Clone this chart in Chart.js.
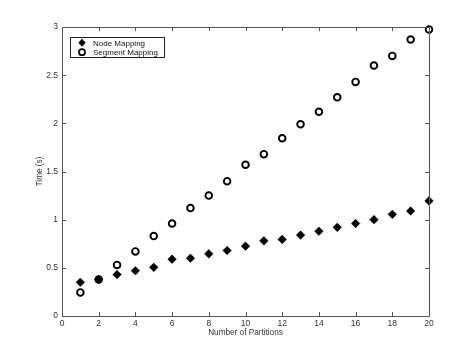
<!DOCTYPE html>
<html>
<head>
<meta charset="utf-8">
<script src="https://cdn.jsdelivr.net/npm/chart.js@4/dist/chart.umd.min.js"></script>
<style>
html,body{margin:0;padding:0;background:#fff;}
#c{display:block;}
</style>
</head>
<body>
<canvas id="c" width="474" height="355"></canvas>
<script>
const partitions = [1,2,3,4,5,6,7,8,9,10,11,12,13,14,15,16,17,18,19,20];
const nodeMapping = [0.35,0.38,0.43,0.47,0.505,0.59,0.60,0.645,0.68,0.725,0.78,0.795,0.84,0.88,0.92,0.96,1.00,1.055,1.09,1.195];
const segmentMapping = [0.245,0.38,0.53,0.67,0.83,0.96,1.12,1.25,1.40,1.57,1.68,1.845,1.99,2.12,2.27,2.43,2.60,2.70,2.87,2.975];
const xTicks = [0,2,4,6,8,10,12,14,16,18,20];
const yTicks = [0,0.5,1,1.5,2,2.5,3];
const yTickLabels = ['0','0.5','1','1.5','2','2.5','3'];
const seriesLabels = ['Node Mapping','Segment Mapping'];
const xTitle = 'Number of Partitions';
const yTitle = 'Time (s)';

const FONT = '"Liberation Sans", Arial, Helvetica, sans-serif';
const AXIS = '#555';
const TEXT = '#333';

const boxPlugin = {
  id: 'box',
  afterDraw(chart) {
    const {ctx, chartArea: a, scales: {x, y}} = chart;
    ctx.save();
    ctx.strokeStyle = AXIS;
    ctx.lineWidth = 1;
    ctx.beginPath();
    ctx.rect(Math.round(a.left) + 0.5, Math.round(a.top) + 0.5, Math.round(a.right - a.left), Math.round(a.bottom - a.top));
    ctx.stroke();
    const L = 4;
    ctx.beginPath();
    xTicks.forEach(v => {
      const px = Math.round(x.getPixelForValue(v)) + 0.5;
      ctx.moveTo(px, a.bottom); ctx.lineTo(px, a.bottom - L);
      ctx.moveTo(px, a.top); ctx.lineTo(px, a.top + L);
    });
    yTicks.forEach(v => {
      const py = Math.round(y.getPixelForValue(v)) + 0.5;
      ctx.moveTo(a.left, py); ctx.lineTo(a.left + L, py);
      ctx.moveTo(a.right, py); ctx.lineTo(a.right - L, py);
    });
    ctx.stroke();

    // legend
    const lx = 70, ly = 37, lw = 94, lh = 20;
    ctx.fillStyle = '#fff';
    ctx.fillRect(lx, ly, lw, lh);
    ctx.strokeStyle = '#222';
    ctx.strokeRect(lx + 0.5, ly + 0.5, lw, lh);
    ctx.font = '8px ' + FONT;
    ctx.textBaseline = 'middle';
    ctx.textAlign = 'left';
    ctx.fillStyle = '#111';
    const rows = [ly + 5.8, ly + 15.2];
    chart.data.datasets.forEach((ds, i) => {
      const cy = rows[i], cx = 82;
      ctx.save();
      if (ds.pointStyle === 'rectRot') {
        ctx.fillStyle = '#000';
        ctx.beginPath();
        ctx.moveTo(cx, cy - 4); ctx.lineTo(cx + 3.6, cy); ctx.lineTo(cx, cy + 4); ctx.lineTo(cx - 3.6, cy); ctx.closePath();
        ctx.fill();
      } else {
        ctx.strokeStyle = '#000'; ctx.lineWidth = 1.8;
        ctx.beginPath(); ctx.arc(cx, cy, 3, 0, Math.PI * 2); ctx.stroke();
      }
      ctx.restore();
      ctx.fillStyle = '#111';
      ctx.fillText(ds.label, 93, cy + 0.5);
    });
    ctx.restore();
  }
};

new Chart(document.getElementById('c'), {
  type: 'scatter',
  data: {
    datasets: [
      {
        label: seriesLabels[0],
        data: partitions.map((p, i) => ({x: p, y: nodeMapping[i]})),
        pointStyle: 'rectRot',
        pointRadius: 4.3,
        pointHoverRadius: 4.3,
        backgroundColor: '#000',
        borderColor: '#000',
        borderWidth: 0.5,
        clip: false
      },
      {
        label: seriesLabels[1],
        data: partitions.map((p, i) => ({x: p, y: segmentMapping[i]})),
        pointStyle: 'circle',
        pointRadius: 3.3,
        pointHoverRadius: 3.3,
        backgroundColor: '#fff',
        borderColor: '#000',
        borderWidth: 1.9,
        clip: false
      }
    ]
  },
  options: {
    responsive: false,
    animation: false,
    devicePixelRatio: 1,
    layout: {padding: {left: 0, top: 27, right: 45, bottom: 0}},
    plugins: {legend: {display: false}, tooltip: {enabled: false}},
    scales: {
      x: {
        type: 'linear', min: 0, max: 20,
        afterBuildTicks: s => { s.ticks = xTicks.map(v => ({value: v})); },
        afterFit: s => { s.height = 39; },
        grid: {display: false, drawTicks: false},
        border: {display: false},
        ticks: {padding: 3, color: TEXT, font: {family: FONT, size: 8.5}, maxRotation: 0, autoSkip: false,
                callback: v => String(v)},
        title: {display: true, text: xTitle, color: TEXT, font: {family: FONT, size: 8.2}, padding: {top: 0, bottom: 17}}
      },
      y: {
        type: 'linear', min: 0, max: 3,
        afterBuildTicks: s => { s.ticks = yTicks.map(v => ({value: v})); },
        afterFit: s => { s.width = 62; },
        grid: {display: false, drawTicks: false},
        border: {display: false},
        ticks: {padding: 4, color: TEXT, font: {family: FONT, size: 8.5}, autoSkip: false,
                callback: (v, i) => yTickLabels[yTicks.indexOf(v)] ?? String(v)},
        title: {display: true, text: yTitle, color: TEXT, font: {family: FONT, size: 8.2}, padding: {top: 35, bottom: 0}}
      }
    }
  },
  plugins: [boxPlugin]
});
</script>
</body>
</html>
